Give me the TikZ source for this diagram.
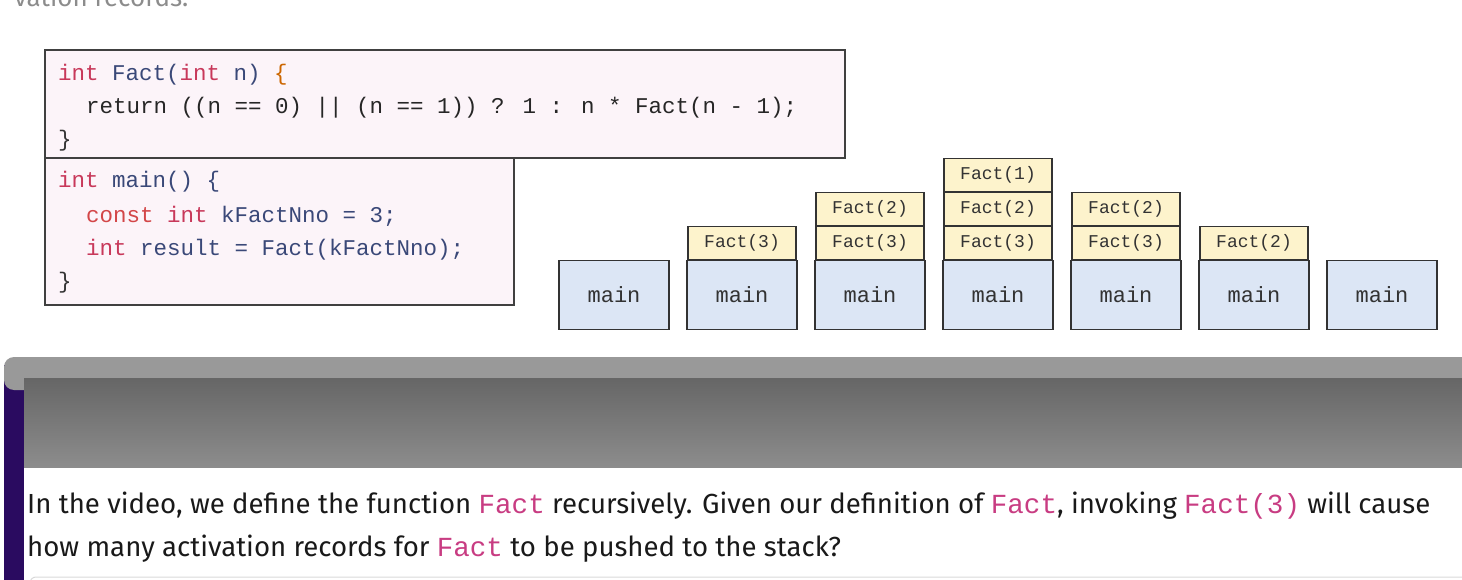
\documentclass[tikz,border=0pt]{standalone}
\usepackage{fontspec}
\setmainfont{Fira Sans}
\newfontfamily\codef{Liberation Mono}
\newfontfamily\uif{Fira Sans}
\definecolor{kw}{HTML}{C8385A}
\definecolor{idf}{HTML}{3A4878}
\definecolor{pinkbg}{HTML}{FCF4F9}
\definecolor{yel}{HTML}{FDF3CC}
\definecolor{blu}{HTML}{DCE6F5}
\definecolor{mag}{HTML}{C83C82}
\definecolor{purp}{HTML}{2A0B60}
\begin{document}
\begin{tikzpicture}[x=1pt,y=-1pt,
  codebox/.style={draw=black!75,line width=1.6pt,fill=pinkbg},
  mainbox/.style={draw=black!80,line width=1.5pt,fill=blu,minimum width=110pt,minimum height=69pt,inner sep=0pt,font=\codef\fontsize{22}{24}\selectfont,text=black!80},
  factbox/.style={draw=black!80,line width=1.3pt,fill=yel,minimum width=108pt,minimum height=33pt,inner sep=0pt,font=\codef\fontsize{18}{20}\selectfont,text=black!80},
  code/.style={anchor=west,inner sep=0pt,font=\codef\fontsize{22.5}{24}\selectfont,text=idf},
  qtext/.style={anchor=base west,inner sep=0pt,font=\fontsize{27.6}{30}\selectfont,text=black!90}]
\useasboundingbox (0,0) rectangle (1462,580);
\clip (0,0) rectangle (1462,580);
\node[anchor=base west,inner sep=0pt,text=black!45,font=\uif\fontsize{26}{28}\selectfont] (top) at (14,7) {vation records.};
% code boxes
\draw[codebox] (45,50) rectangle (845,158);
\draw[codebox] (45,158) rectangle (514,305);
\node[code] (l1) at (58,75) {\textcolor{kw}{int} Fact(\textcolor{kw}{int} n) \textcolor{orange!80!black}{\{}};
\node[code,text=black!85] (l2) at (86,108) {return ((n == 0) || (n == 1)) ? 1 : n * Fact(n - 1);};
\node[code,text=black!80] (l3) at (58,141) {\}};
\node[code] (l4) at (58,182) {\textcolor{kw}{int} main() \{};
\node[code] (l5) at (86,216) {\textcolor{kw!80!orange}{const} \textcolor{kw}{int} kFactNno = 3;};
\node[code] (l6) at (86,250) {\textcolor{kw}{int} result = Fact(kFactNno);};
\node[code,text=black!80] (l7) at (58,283) {\}};
% stacks
\foreach \i/\x in {1/614,2/742,3/870,4/998,5/1126,6/1254,7/1382}{
  \node[mainbox] (m\i) at (\x,295) {main};}
\node[factbox] (a2) at (742,243) {Fact(3)};
\node[factbox] (a3) at (870,243) {Fact(3)};
\node[factbox] (b3) at (870,209) {Fact(2)};
\node[factbox] (a4) at (998,243) {Fact(3)};
\node[factbox] (b4) at (998,209) {Fact(2)};
\node[factbox] (c4) at (998,175) {Fact(1)};
\node[factbox] (a5) at (1126,243) {Fact(3)};
\node[factbox] (b5) at (1126,209) {Fact(2)};
\node[factbox] (a6) at (1254,243) {Fact(2)};
% bands
\fill[purp] (4,365) rectangle (24,580);
\fill[black!40,rounded corners=10pt] (4,390) rectangle (1475,357);
\fill[black!40] (4,372) rectangle (1462,378);
\shade[top color=black!60,bottom color=black!45] (24,378) rectangle (1462,467);
% question
\node[qtext] (q1) at (27,513)
  {In the video, we define the function \textcolor{mag}{\codef Fact} recursively. Given our definition of \textcolor{mag}{\codef Fact}, invoking \textcolor{mag}{\codef Fact(3)} will cause};
\node[qtext] (q2) at (27,556)
  {how many activation records for \textcolor{mag}{\codef Fact} to be pushed to the stack?};
\draw[black!15,line width=1pt,rounded corners=6pt] (30,590) -- (30,577) -- (1462,577);
\end{tikzpicture}
\end{document}
